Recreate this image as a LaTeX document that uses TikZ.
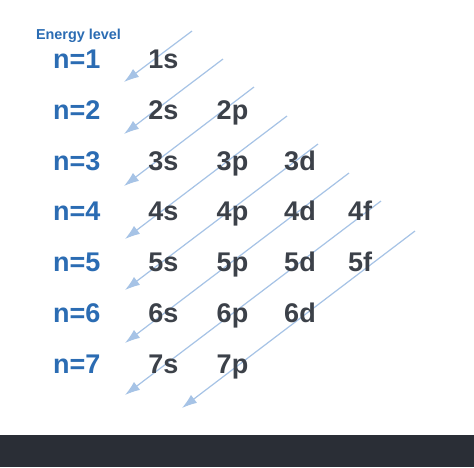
\documentclass[tikz,border=0pt]{standalone}
\usepackage{fontspec}
\setmainfont{Liberation Sans}
\usetikzlibrary{arrows.meta}
\definecolor{levelblue}{HTML}{2B6CB3}
\definecolor{orbgray}{HTML}{3C4149}
\definecolor{fillblue}{HTML}{A6C3E6}
\definecolor{bardark}{HTML}{2A2E36}

\begin{document}
\begin{tikzpicture}[
  x=1pt, y=-1pt,
  level/.style={text=levelblue,anchor=base,inner sep=0pt,font=\fontsize{27}{27}\selectfont\bfseries},
  orbital/.style={text=orbgray,anchor=base,inner sep=0pt,font=\fontsize{27}{27}\selectfont\bfseries},
  diag/.style={draw=fillblue,line width=1.2pt,-{Latex[length=15pt,width=10pt]}}
]
\useasboundingbox (0,0) rectangle (474,467);
\fill[white] (0,0) rectangle (474,435);
\fill[bardark] (0,435) rectangle (474,467);

% diagonal rule arrows
\coordinate (s1) at (192,31);  \coordinate (e1) at (124,82);
\coordinate (s2) at (223,59);  \coordinate (e2) at (124,134);
\coordinate (s3) at (254,87);  \coordinate (e3) at (124,186);
\coordinate (s4) at (287,116); \coordinate (e4) at (125,239);
\coordinate (s5) at (318,144); \coordinate (e5) at (125,290);
\coordinate (s6) at (349,173); \coordinate (e6) at (125,343);
\coordinate (s7) at (381,201); \coordinate (e7) at (125,395);
\coordinate (s8) at (415,231); \coordinate (e8) at (182,408);

\path (s1) edge[diag] (e1)
(s2) edge[diag] (e2)
(s3) edge[diag] (e3)
(s4) edge[diag] (e4)
(s5) edge[diag] (e5)
(s6) edge[diag] (e6)
(s7) edge[diag] (e7)
(s8) edge[diag] (e8);

\node[text=levelblue,anchor=base,inner sep=0pt,font=\fontsize{14.4}{14.4}\selectfont\bfseries] (title) at (78.5,39) {Energy level};

\node[level] (n1) at (76.7,68.5) {n=1};
\node[level] (n2) at (76.7,119.3) {n=2};
\node[level] (n3) at (76.7,170.1) {n=3};
\node[level] (n4) at (76.7,220.9) {n=4};
\node[level] (n5) at (76.7,271.7) {n=5};
\node[level] (n6) at (76.7,322.5) {n=6};
\node[level] (n7) at (76.7,373.3) {n=7};

\node[orbital] (o1s) at (163.5,68.5) {1s};
\node[orbital] (o2s) at (163.5,119.3) {2s};
\node[orbital] (o2p) at (232.5,119.3) {2p};
\node[orbital] (o3s) at (163.5,170.1) {3s};
\node[orbital] (o3p) at (232.5,170.1) {3p};
\node[orbital] (o3d) at (300,170.1) {3d};
\node[orbital] (o4s) at (163.5,220.9) {4s};
\node[orbital] (o4p) at (232.5,220.9) {4p};
\node[orbital] (o4d) at (300,220.9) {4d};
\node[orbital] (o4f) at (360,220.9) {4f};
\node[orbital] (o5s) at (163.5,271.7) {5s};
\node[orbital] (o5p) at (232.5,271.7) {5p};
\node[orbital] (o5d) at (300,271.7) {5d};
\node[orbital] (o5f) at (360,271.7) {5f};
\node[orbital] (o6s) at (163.5,322.5) {6s};
\node[orbital] (o6p) at (232.5,322.5) {6p};
\node[orbital] (o6d) at (300,322.5) {6d};
\node[orbital] (o7s) at (163.5,373.3) {7s};
\node[orbital] (o7p) at (232.5,373.3) {7p};

\end{tikzpicture}
\end{document}
